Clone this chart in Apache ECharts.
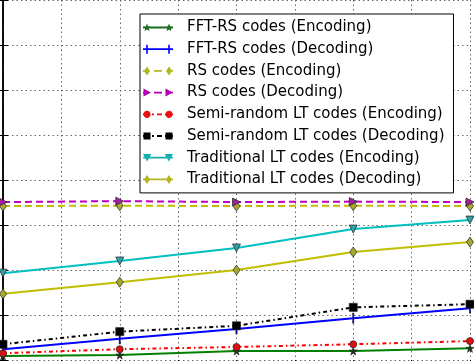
<!DOCTYPE html>
<html>
<head>
<meta charset="utf-8">
<script src="https://cdn.jsdelivr.net/npm/echarts@6/dist/echarts.min.js"></script>
<style>html,body{margin:0;padding:0;background:#fff;}#c{width:474px;height:361px;}</style>
</head>
<body>
<div id="c"></div>
<script>
// Data (y in grid units; tick labels are cropped out in the reference)
const xValues = [0, 2, 4, 6, 8];
const fftRsEnc = [0.09, 0.11, 0.20, 0.20, 0.26];
const fftRsDec = [0.24, 0.47, 0.69, 0.93, 1.15];
const rsEnc = [3.42, 3.43, 3.42, 3.43, 3.42];
const rsDec = [3.51, 3.53, 3.51, 3.52, 3.51];
const srLtEnc = [0.15, 0.24, 0.29, 0.35, 0.42];
const srLtDec = [0.35, 0.63, 0.76, 1.17, 1.24];
const tLtEnc = [1.93, 2.20, 2.49, 2.91, 3.11];
const tLtDec = [1.47, 1.73, 2.00, 2.40, 2.62];
const seriesNames = [
  'FFT-RS codes (Encoding)',
  'FFT-RS codes (Decoding)',
  'RS codes (Encoding)',
  'RS codes (Decoding)',
  'Semi-random LT codes (Encoding)',
  'Semi-random LT codes (Decoding)',
  'Traditional LT codes (Encoding)',
  'Traditional LT codes (Decoding)'
];

const pair = arr => xValues.map((x, i) => [x, arr[i]]);
const star = 'path://M50,0 L61,35 L98,35 L68,57 L79,91 L50,70 L21,91 L32,57 L2,35 L39,35 Z';

// legend icon paths in a 30x10 box: line segments + two markers (matplotlib style)
function poly(pts) { return 'M' + pts.map(p => p[0].toFixed(2) + ',' + p[1].toFixed(2)).join(' L') + ' Z '; }
function marker(shape, cx) {
  const cy = 5;
  if (shape === 'star') {
    const pts = [];
    for (let i = 0; i < 10; i++) {
      const r = i % 2 === 0 ? 4.2 : 1.8;
      const a = -Math.PI / 2 + i * Math.PI / 5;
      pts.push([cx + r * Math.cos(a), cy + 0.3 + r * Math.sin(a)]);
    }
    return poly(pts);
  }
  if (shape === 'bar') return poly([[cx - 0.8, 0.5], [cx + 0.8, 0.5], [cx + 0.8, 9.5], [cx - 0.8, 9.5]]);
  if (shape === 'diamond') return poly([[cx, 0.5], [cx + 3, cy], [cx, 9.5], [cx - 3, cy]]);
  if (shape === 'tright') return poly([[cx - 3.5, 1], [cx + 4, cy], [cx - 3.5, 9]]);
  if (shape === 'tdown') return poly([[cx - 4.2, 1.2], [cx + 4.2, 1.2], [cx, 8.8]]);
  if (shape === 'square') return poly([[cx - 3.5, 1.5], [cx + 3.5, 1.5], [cx + 3.5, 8.5], [cx - 3.5, 8.5]]);
  if (shape === 'circle') {
    const pts = [];
    for (let i = 0; i < 16; i++) { const a = i * Math.PI / 8; pts.push([cx + 3.6 * Math.cos(a), cy + 3.6 * Math.sin(a)]); }
    return poly(pts);
  }
  return '';
}
function seg(x0, x1) { return poly([[x0, 4.1], [x1, 4.1], [x1, 5.9], [x0, 5.9]]); }
function legendIcon(shape, style) {
  let p = 'M0,0 L0.01,0 L0.01,0.01 Z M30,10 L29.99,10 L29.99,9.99 Z ';
  if (style === 'solid') p += seg(0, 30);
  else if (style === 'dashed') p += seg(0, 4) + seg(11, 19) + seg(26, 30);
  else p += seg(0, 4) + seg(9, 11) + seg(14, 19) + seg(22, 24) + seg(26, 30);
  p += marker(shape, 4) + marker(shape, 26);
  return 'path://' + p;
}

function mk(name, data, color, type, symbol, size, rotate, fill) {
  return {
    name: name, type: 'line', data: pair(data),
    symbol: symbol, symbolSize: size, symbolRotate: rotate || 0,
    lineStyle: {color: color, width: 2, type: type},
    itemStyle: {color: fill || color, borderColor: '#222', borderWidth: 0.7},
    clip: false, z: 3
  };
}

const legendShapes = ['star', 'bar', 'diamond', 'tright', 'circle', 'square', 'tdown', 'diamond'];
const legendStyles = ['solid', 'solid', 'dashed', 'dashed', 'dashdot', 'dashdot', 'solid', 'solid'];
const legendColors = ['#1d6b1d', '#0000ff', '#b5b520', '#b000b0', '#e81010', '#000000', '#10b0b0', '#b5b520'];

const chart = echarts.init(document.getElementById('c'), null, {renderer: 'canvas'});
chart.setOption({
  animation: false,
  backgroundColor: '#fff',
  grid: {left: 3, right: 4, top: 0, bottom: 1},
  xAxis: [
    {type: 'value', min: 0, max: 8, interval: 1,
      axisLine: {show: false}, axisTick: {show: false}, axisLabel: {show: false},
      splitLine: {show: true, lineStyle: {color: '#666', type: [1.5, 3], width: 1}}},
    {type: 'value', position: 'top', min: 0, max: 8, interval: 1,
      axisLine: {show: false}, axisTick: {show: true, inside: true, length: 4, lineStyle: {color: '#000'}},
      axisLabel: {show: false}, splitLine: {show: false}}
  ],
  yAxis: [
    {type: 'value', min: 0, max: 8, interval: 1,
      axisLine: {show: true, lineStyle: {color: '#000', width: 1.5}},
      axisTick: {show: true, inside: true, length: 5, lineStyle: {color: '#000'}},
      axisLabel: {show: false},
      splitLine: {show: true, lineStyle: {color: '#666', type: [1.5, 3], width: 1}}},
    {type: 'value', position: 'right', min: 0, max: 8, interval: 1,
      axisLine: {show: true, lineStyle: {color: '#000', width: 1.5}},
      axisTick: {show: true, inside: true, length: 5, lineStyle: {color: '#000'}},
      axisLabel: {show: false}, splitLine: {show: false}}
  ],
  legend: {
    orient: 'vertical', left: 140, top: 14,
    backgroundColor: '#fff', borderColor: '#000', borderWidth: 1, borderRadius: 0,
    padding: [6, 9, 6, 3], itemGap: 6.7, itemWidth: 30, itemHeight: 10,
    textStyle: {fontFamily: 'DejaVu Sans', fontSize: 15, lineHeight: 15, color: '#000', padding: [0, 0, 0, 9]},
    data: seriesNames.map((n, i) => ({
      name: n, icon: legendIcon(legendShapes[i], legendStyles[i]),
      itemStyle: {color: legendColors[i], borderWidth: 0}
    }))
  },
  series: [
    mk(seriesNames[0], fftRsEnc, '#008000', 'solid', star, 8, 0, '#1a3a1a'),
    mk(seriesNames[1], fftRsDec, '#0000ff', 'solid', 'rect', [1.5, 9], 0),
    mk(seriesNames[2], rsEnc, '#bfbf00', [7, 4], 'diamond', [7, 10], 0, '#a8a830'),
    mk(seriesNames[3], rsDec, '#bf00bf', [7, 4], 'triangle', 8, -90, '#a020a0'),
    mk(seriesNames[4], srLtEnc, '#ff0000', [4, 3, 1.5, 3], 'circle', 7, 0, '#e01010'),
    mk(seriesNames[5], srLtDec, '#000000', [4, 3, 1.5, 3], 'rect', 8, 0),
    mk(seriesNames[6], tLtEnc, '#00bfbf', 'solid', 'triangle', 8, 180, '#30a0a0'),
    mk(seriesNames[7], tLtDec, '#bfbf00', 'solid', 'diamond', [7, 10], 0, '#a8a830')
  ]
});
</script>
</body>
</html>
